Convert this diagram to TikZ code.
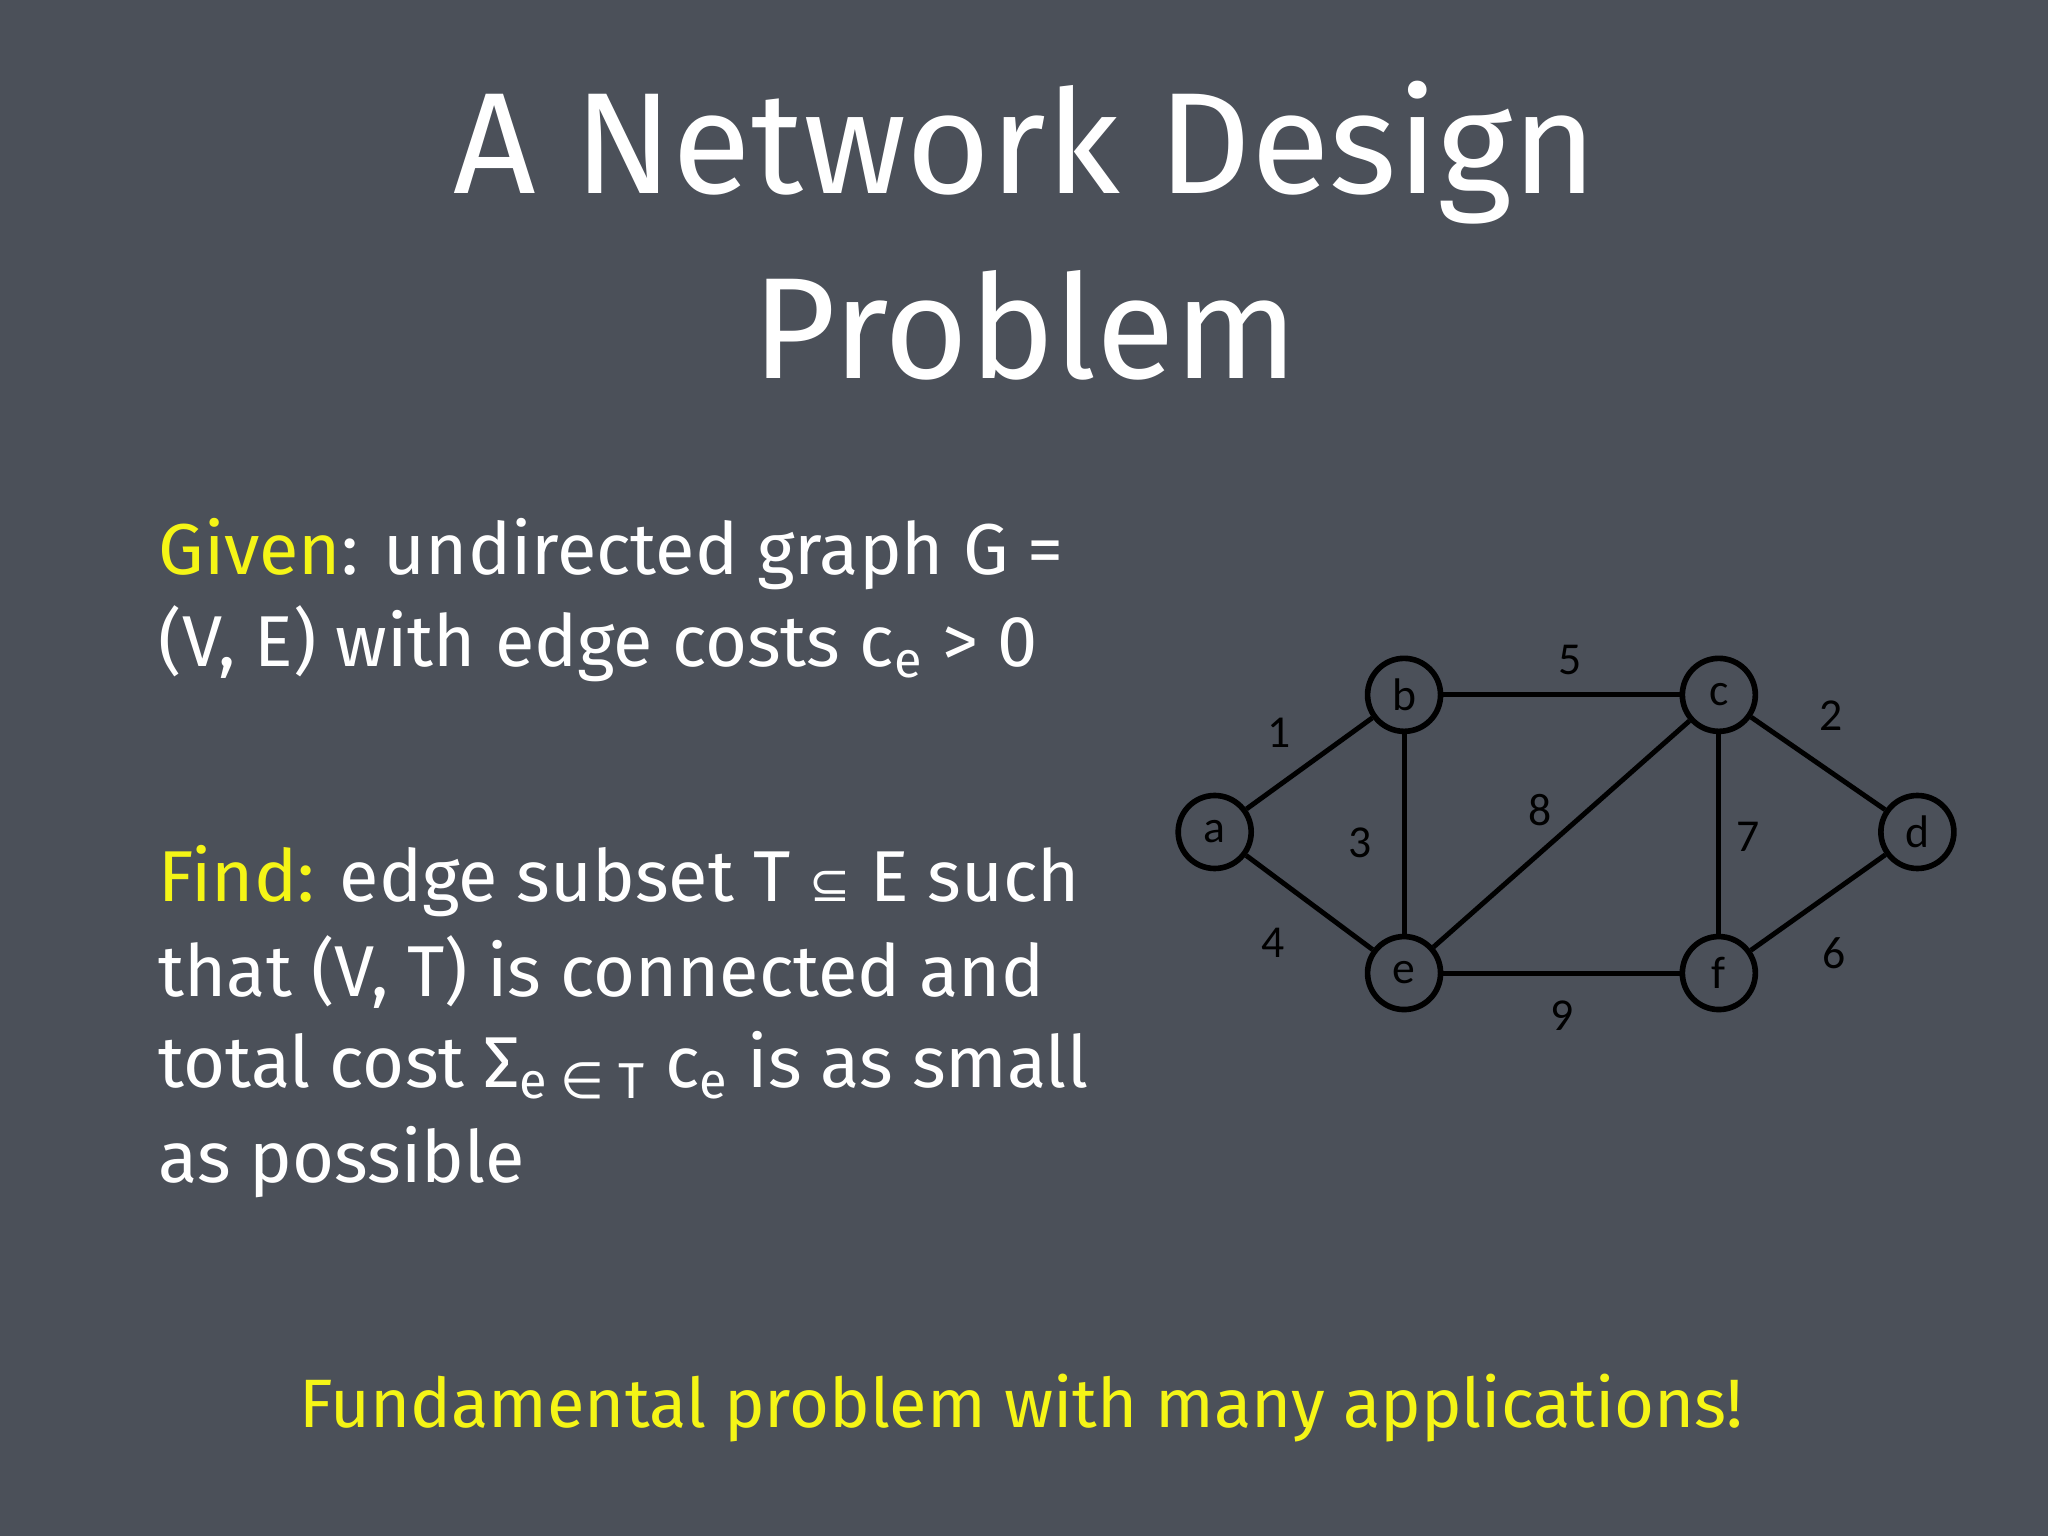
\documentclass[tikz,border=0pt]{standalone}
\usepackage{fontspec}
\setmainfont{Fira Sans}
\newfontfamily\lblfont{Carlito}
\newfontfamily\symfont{DejaVu Sans}
\definecolor{bg}{HTML}{4B5059}
\definecolor{yel}{HTML}{F5F516}
\begin{document}
\begin{tikzpicture}[x=0.01306cm,y=-0.01306cm,
  vtx/.style={circle,draw=black,line width=1.6pt,fill=bg,minimum size=0.73cm,inner sep=0pt,font=\lblfont\fontsize{13}{15}\selectfont,text=black},
  edg/.style={line width=1.4pt,draw=black},
  wlbl/.style={font=\lblfont\fontsize{13}{15}\selectfont,text=black},
  body/.style={anchor=base west,text=white,font=\fontsize{20.5}{24}\selectfont},
  ttl/.style={anchor=base,text=white,font=\fontsize{41}{46}\selectfont}]
\fill[bg] (0,0) rectangle (1568,1176);
\useasboundingbox (0,0) rectangle (1568,1176);
\node[ttl] (t1) at (785,148) {A Network Design};
\node[ttl] (t2) at (785,290) {Problem};
\node[body] (g1) at (112,440) {\textcolor{yel}{Given}: undirected graph G =};
\node[body] (g2) at (112,510) {(V, E) with edge costs c\textsubscript{e} > 0};
\node[body] (f1) at (112,690) {\textcolor{yel}{Find:} edge subset T {\symfont\fontsize{14}{16}\selectfont ⊆} E such};
\node[body] (f2) at (112,763) {that (V, T) is connected and};
\node[body] (f3) at (112,833) {total cost Σ\textsubscript{e {\symfont ∈} T} c\textsubscript{e} is as small};
\node[body] (f4) at (112,905) {as possible};
\node[anchor=base,text=yel,font=\fontsize{19.5}{22}\selectfont] (fund) at (782,1093) {Fundamental problem with many applications!};
\node[vtx] (a) at (930,637) {a};
\node[vtx] (b) at (1075,532) {b};
\node[vtx] (c) at (1316,532) {c};
\node[vtx] (d) at (1468,637) {d};
\node[vtx] (e) at (1075,745) {e};
\node[vtx] (f) at (1316,745) {f};
\draw[edg] (a)--(b); \draw[edg] (a)--(e); \draw[edg] (b)--(c); \draw[edg] (b)--(e);
\draw[edg] (e)--(c); \draw[edg] (c)--(f); \draw[edg] (c)--(d); \draw[edg] (e)--(f); \draw[edg] (f)--(d);
\node[wlbl] (l1) at (979,561) {1};
\node[wlbl] (l5) at (1202,505) {5};
\node[wlbl] (l2) at (1402,548) {2};
\node[wlbl] (l3) at (1041,645) {3};
\node[wlbl] (l8) at (1179,620) {8};
\node[wlbl] (l7) at (1338,641) {7};
\node[wlbl] (l4) at (975,722) {4};
\node[wlbl] (l9) at (1196,778) {9};
\node[wlbl] (l6) at (1404,730) {6};
\end{tikzpicture}
\end{document}
